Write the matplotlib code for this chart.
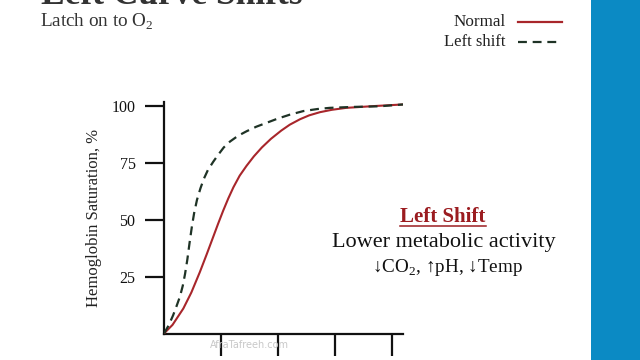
import numpy as np
import matplotlib.pyplot as plt
from matplotlib.lines import Line2D
from matplotlib.patches import Rectangle

plt.rcParams['font.family'] = ['Liberation Serif', 'DejaVu Serif']
plt.rcParams['mathtext.fontset'] = 'custom'
plt.rcParams['mathtext.rm'] = 'Liberation Serif'

# curves (x in tick units, y in %)
normal_x = [0.0, 0.15, 0.34, 0.48, 0.63, 0.75, 0.865, 0.95, 1.04, 1.13, 1.22, 1.33,
            1.45, 1.58, 1.72, 1.88, 2.06, 2.21, 2.39, 2.55, 2.74, 2.95, 3.2, 3.7, 4.2]
normal_y = [0.0, 3.8, 11, 18, 27, 34.8, 42.5, 48.2, 54, 59.4, 64.3, 69.4,
            73.7, 77.9, 81.8, 85.6, 89.2, 91.8, 94.2, 95.9, 97.3, 98.35, 99.2, 100, 100.7]
left_x = [0.0, 0.08, 0.16, 0.22, 0.28, 0.33, 0.37, 0.41, 0.45, 0.49, 0.53, 0.58,
          0.64, 0.70, 0.77, 0.865, 0.95, 1.05, 1.16, 1.30, 1.45, 1.62, 1.80, 2.0,
          2.21, 2.45, 2.7, 2.91, 3.3, 3.79, 4.2]
left_y = [0.0, 3.5, 8, 12, 16.2, 21, 26.2, 32.5, 40, 47, 53, 58.8,
          63.8, 68, 71.8, 75.5, 78.5, 81.8, 84.4, 86.9, 88.9, 90.9, 92.6, 94.5,
          96.2, 97.8, 98.7, 99.2, 99.6, 99.9, 100.7]
y_ticks = [25, 50, 75, 100]
x_ticks = [1, 2, 3, 4]

W, H = 640, 360
red = '#a8262b'
dash_col = '#1f3326'
underline_red = '#9b1c20'

fig = plt.figure(figsize=(6.4, 3.6), dpi=100)
fig.patch.set_facecolor('white')


def px(x, y):
    return x / W, 1 - y / H


# blue side bar
fig.patches.append(Rectangle((591 / W, 0), (W - 591) / W, 1, transform=fig.transFigure,
                             facecolor='#0b8ac4', edgecolor='none', zorder=0))

ax = fig.add_axes([164 / W, (H - 333.5) / H, 239 / W, 232 / H])
ax.set_facecolor('none')
ax.plot(normal_x, normal_y, color=red, lw=1.5, solid_joinstyle='round', solid_capstyle='round', zorder=3)
ax.plot(left_x, left_y, color=dash_col, lw=1.6, dashes=(4, 2.6), zorder=3)
ax.set_xlim(0, 4.2)
ax.set_ylim(0, 102)
for s in ['top', 'right']:
    ax.spines[s].set_visible(False)
for s in ['left', 'bottom']:
    ax.spines[s].set_linewidth(1.6)
    ax.spines[s].set_color('#111111')
ax.set_yticks(y_ticks)
ax.set_yticklabels([str(v) for v in y_ticks], fontsize=11.5)
ax.set_xticks(x_ticks)
ax.set_xticklabels([])
ax.tick_params(axis='y', direction='out', length=13.5, width=1.6, pad=7, colors='#111111')
ax.tick_params(axis='x', direction='out', length=15.5, width=1.6, colors='#111111')
ax.set_ylabel('Hemoglobin Saturation, %', fontsize=12, labelpad=7, color='#222222')

# title (cut off at the top of the slide) and subtitle
fig.text(*px(41, 4), 'Left Curve Shifts', fontsize=25.5, fontweight='bold', color='#333333',
         va='baseline', ha='left')
fig.text(*px(40, 22), 'Latch on to O$_2$', fontsize=13.8, color='#333333', va='center', ha='left')

# legend
fig.text(*px(506, 22), 'Normal', fontsize=12.3, color='#222222', va='center', ha='right')
fig.text(*px(506, 42), 'Left shift', fontsize=12, color='#222222', va='center', ha='right')
fig.add_artist(Line2D([518 / W, 562 / W], [1 - 22 / H] * 2, color=red, lw=1.6))
fig.add_artist(Line2D([518 / W, 558 / W], [1 - 42 / H] * 2, color=dash_col, lw=1.6, dashes=(4, 2.6)))

# text block
t = fig.text(*px(443, 217), 'Left Shift', fontsize=15, fontweight='bold', color=underline_red,
             va='center', ha='center')
fig.text(*px(444, 243), 'Lower metabolic activity', fontsize=16, color='#111111', va='center', ha='center')
fig.text(*px(447, 268), '↓CO$_2$, ↑pH, ↓Temp', fontsize=13.8, color='#111111', va='center', ha='center')

fig.canvas.draw()
bb = t.get_window_extent(fig.canvas.get_renderer()).transformed(fig.transFigure.inverted())
fig.add_artist(Line2D([bb.x0, bb.x1], [bb.y0 + 0.002] * 2, color=underline_red, lw=1.1))

fig.text(*px(249, 345), 'AfraTafreeh.com', fontsize=7, color='#c8c8c8', family='DejaVu Sans',
         va='center', ha='center')

fig.savefig('out.png', dpi=100)
